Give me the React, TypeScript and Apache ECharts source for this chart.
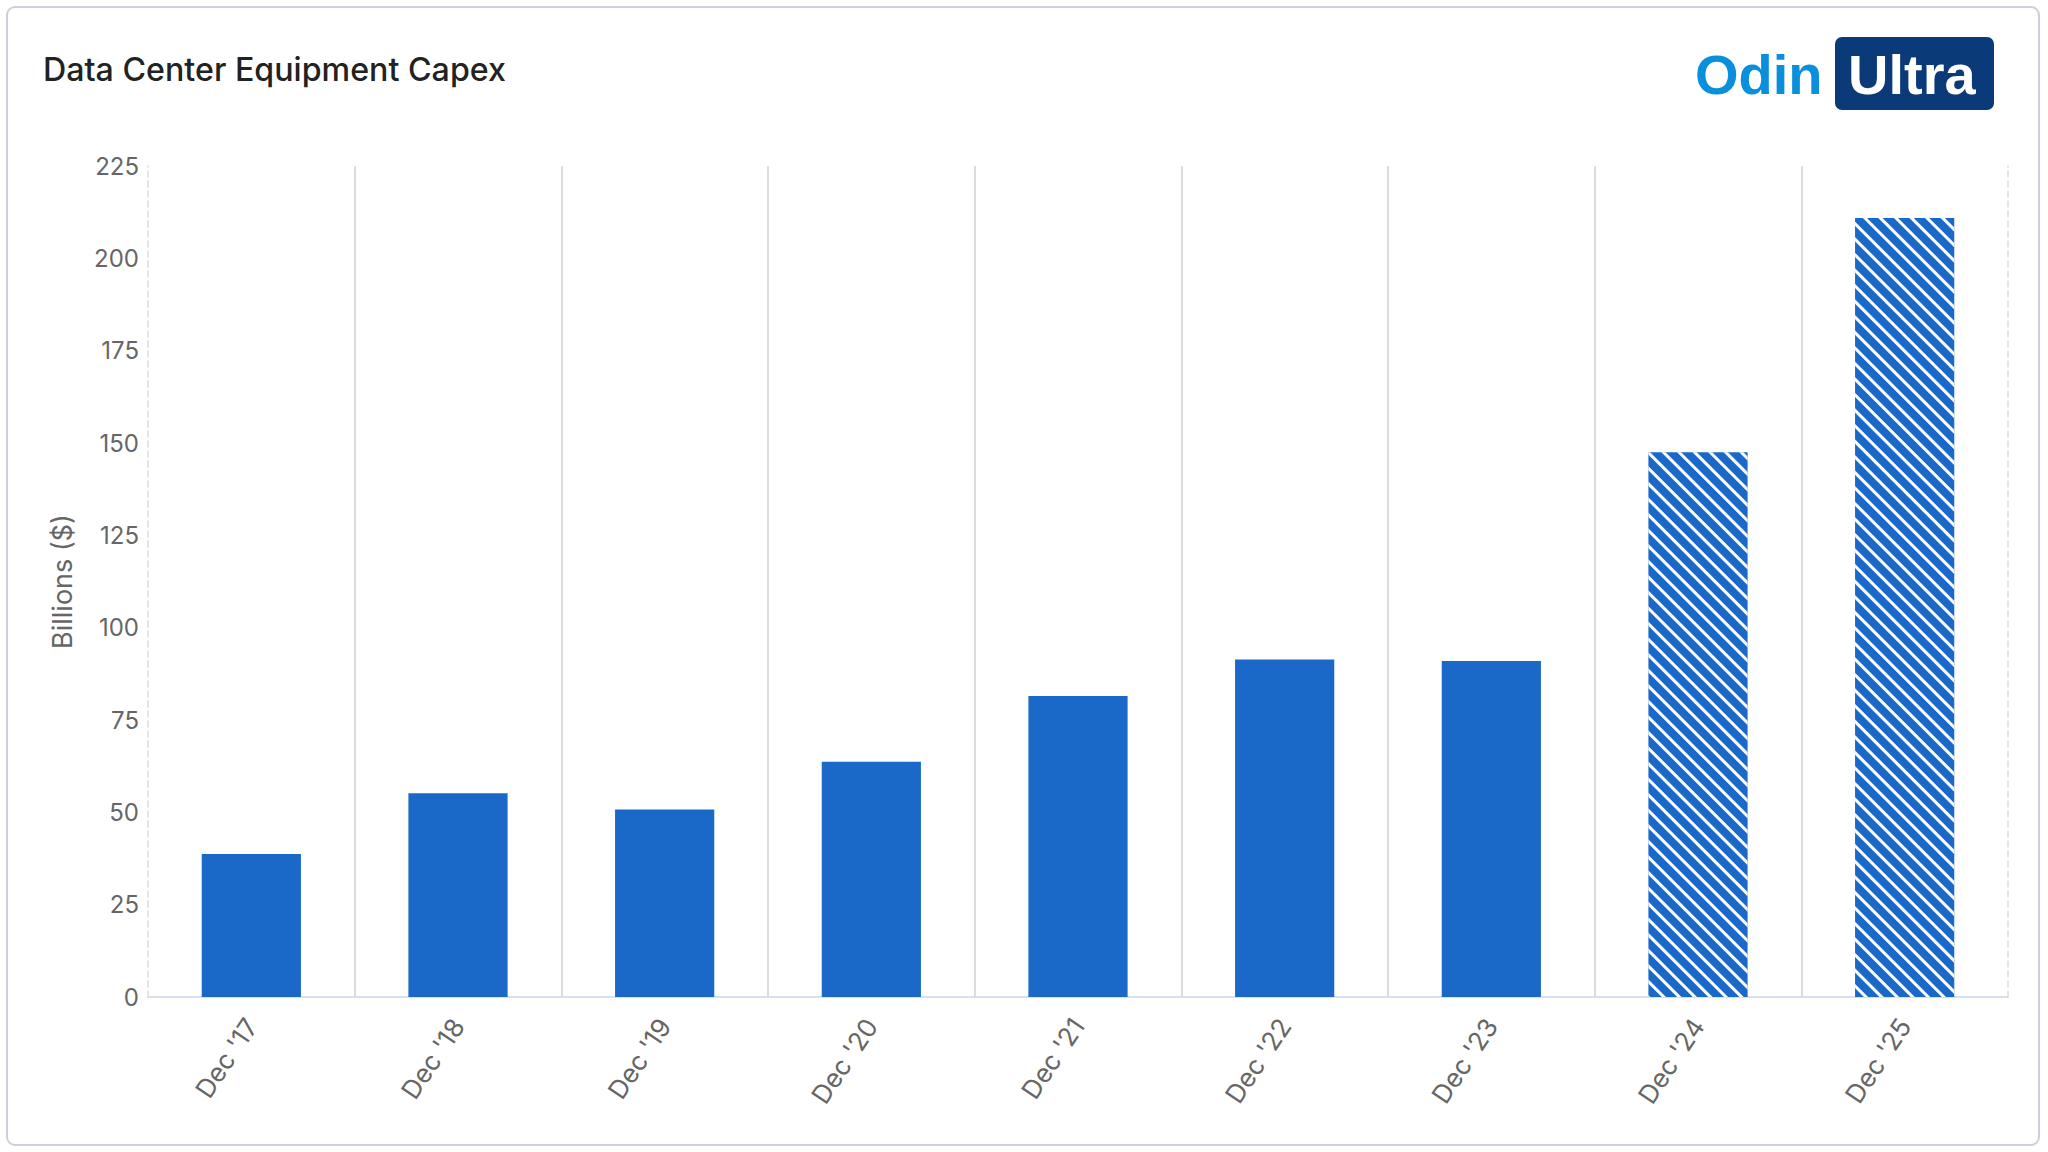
import { useEffect, useRef } from "react";
import * as echarts from "echarts";

const categories = ["Dec '17", "Dec '18", "Dec '19", "Dec '20", "Dec '21", "Dec '22", "Dec '23", "Dec '24", "Dec '25"];
const capexValues = [38.7, 55.2, 50.8, 63.7, 81.5, 91.4, 91.0, 147.5, 210.9];
const isProjection = [false, false, false, false, false, false, false, true, true];
const yMin = 0;
const yMax = 225;
const yInterval = 25;

const TITLE = "Data Center Equipment Capex";
const Y_NAME = "Billions ($)";
const BAR_COLOR = "#1a68c8";
const FONT = "Inter, 'Noto Sans', sans-serif";

export default function App() {
  const ref = useRef<HTMLDivElement>(null);
  useEffect(() => {
    const chart = echarts.init(ref.current as HTMLDivElement, null, { renderer: "svg" });
    const data = capexValues.map((v, i) =>
      isProjection[i]
        ? {
            value: v,
            itemStyle: {
              color: BAR_COLOR,
              decal: {
                symbol: "rect",
                symbolSize: 1,
                dashArrayX: [1, 0],
                dashArrayY: [3, 8],
                rotation: Math.PI / 4,
                color: "#ffffff",
              },
            },
          }
        : { value: v, itemStyle: { color: BAR_COLOR } }
    );
    chart.setOption({
      animation: false,
      backgroundColor: "#ffffff",
      textStyle: { fontFamily: FONT },
      title: {
        text: TITLE,
        left: 38,
        top: 48,
        textStyle: { fontSize: 32.2, fontWeight: 500, color: "#222222", fontFamily: FONT },
      },
      graphic: [
        {
          type: "rect",
          shape: { x: 7, y: 7, width: 2032, height: 1138, r: 8 },
          style: { fill: "none", stroke: "#cdd0d8", lineWidth: 2 },
          silent: true,
          z: -1,
        },
        {
          type: "rect",
          shape: { x: 1835, y: 37, width: 159, height: 73, r: 7 },
          style: { fill: "#0b3a78" },
        },
        {
          type: "text",
          x: 1695,
          y: 74,
          style: {
            text: "Odin",
            fill: "#0a8fdd",
            font: "bold 56px 'Liberation Sans', Arial, sans-serif",
            verticalAlign: "middle",
            align: "left",
          },
        },
        {
          type: "text",
          x: 1848,
          y: 74,
          style: {
            text: "Ultra",
            fill: "#ffffff",
            font: "bold 56px 'Liberation Sans', Arial, sans-serif",
            verticalAlign: "middle",
            align: "left",
          },
        },
      ],
      grid: { left: 148, right: 40, top: 166, bottom: 155, containLabel: false },
      xAxis: {
        type: "category",
        data: categories,
        axisLine: { show: true, lineStyle: { color: "#ccd6eb", width: 1.5 } },
        axisTick: { show: false },
        axisLabel: {
          rotate: 56,
          fontSize: 26,
          color: "#666666",
          margin: 24,
          fontFamily: FONT,
        },
        splitLine: {
          show: true,
          showMinLine: false,
          showMaxLine: false,
          lineStyle: { color: "#d0d0d0", width: 1.5 },
        },
      },
      yAxis: [
        {
          type: "value",
          min: yMin,
          max: yMax,
          interval: yInterval,
          name: Y_NAME,
          nameLocation: "middle",
          nameGap: 72,
          nameTextStyle: { fontSize: 27, color: "#666666", fontFamily: FONT },
          axisLine: { show: true, lineStyle: { color: "#dddddd", width: 1.5, type: [6, 4] } },
          axisTick: { show: false },
          axisLabel: { fontSize: 24, color: "#666666", margin: 9, fontFamily: FONT },
          splitLine: { show: false },
        },
        {
          type: "value",
          min: yMin,
          max: yMax,
          interval: yInterval,
          position: "right",
          axisLine: { show: true, lineStyle: { color: "#dddddd", width: 1.5, type: [6, 4] } },
          axisTick: { show: false },
          axisLabel: { show: false },
          splitLine: { show: false },
        },
      ],
      series: [
        {
          type: "bar",
          data,
          barWidth: "48%",
          yAxisIndex: 0,
        },
      ],
    });
    return () => chart.dispose();
  }, []);
  return (
    <div
      ref={ref}
      style={{ position: "fixed", left: 0, top: 0, width: 2048, height: 1152, background: "#fff" }}
    />
  );
}
